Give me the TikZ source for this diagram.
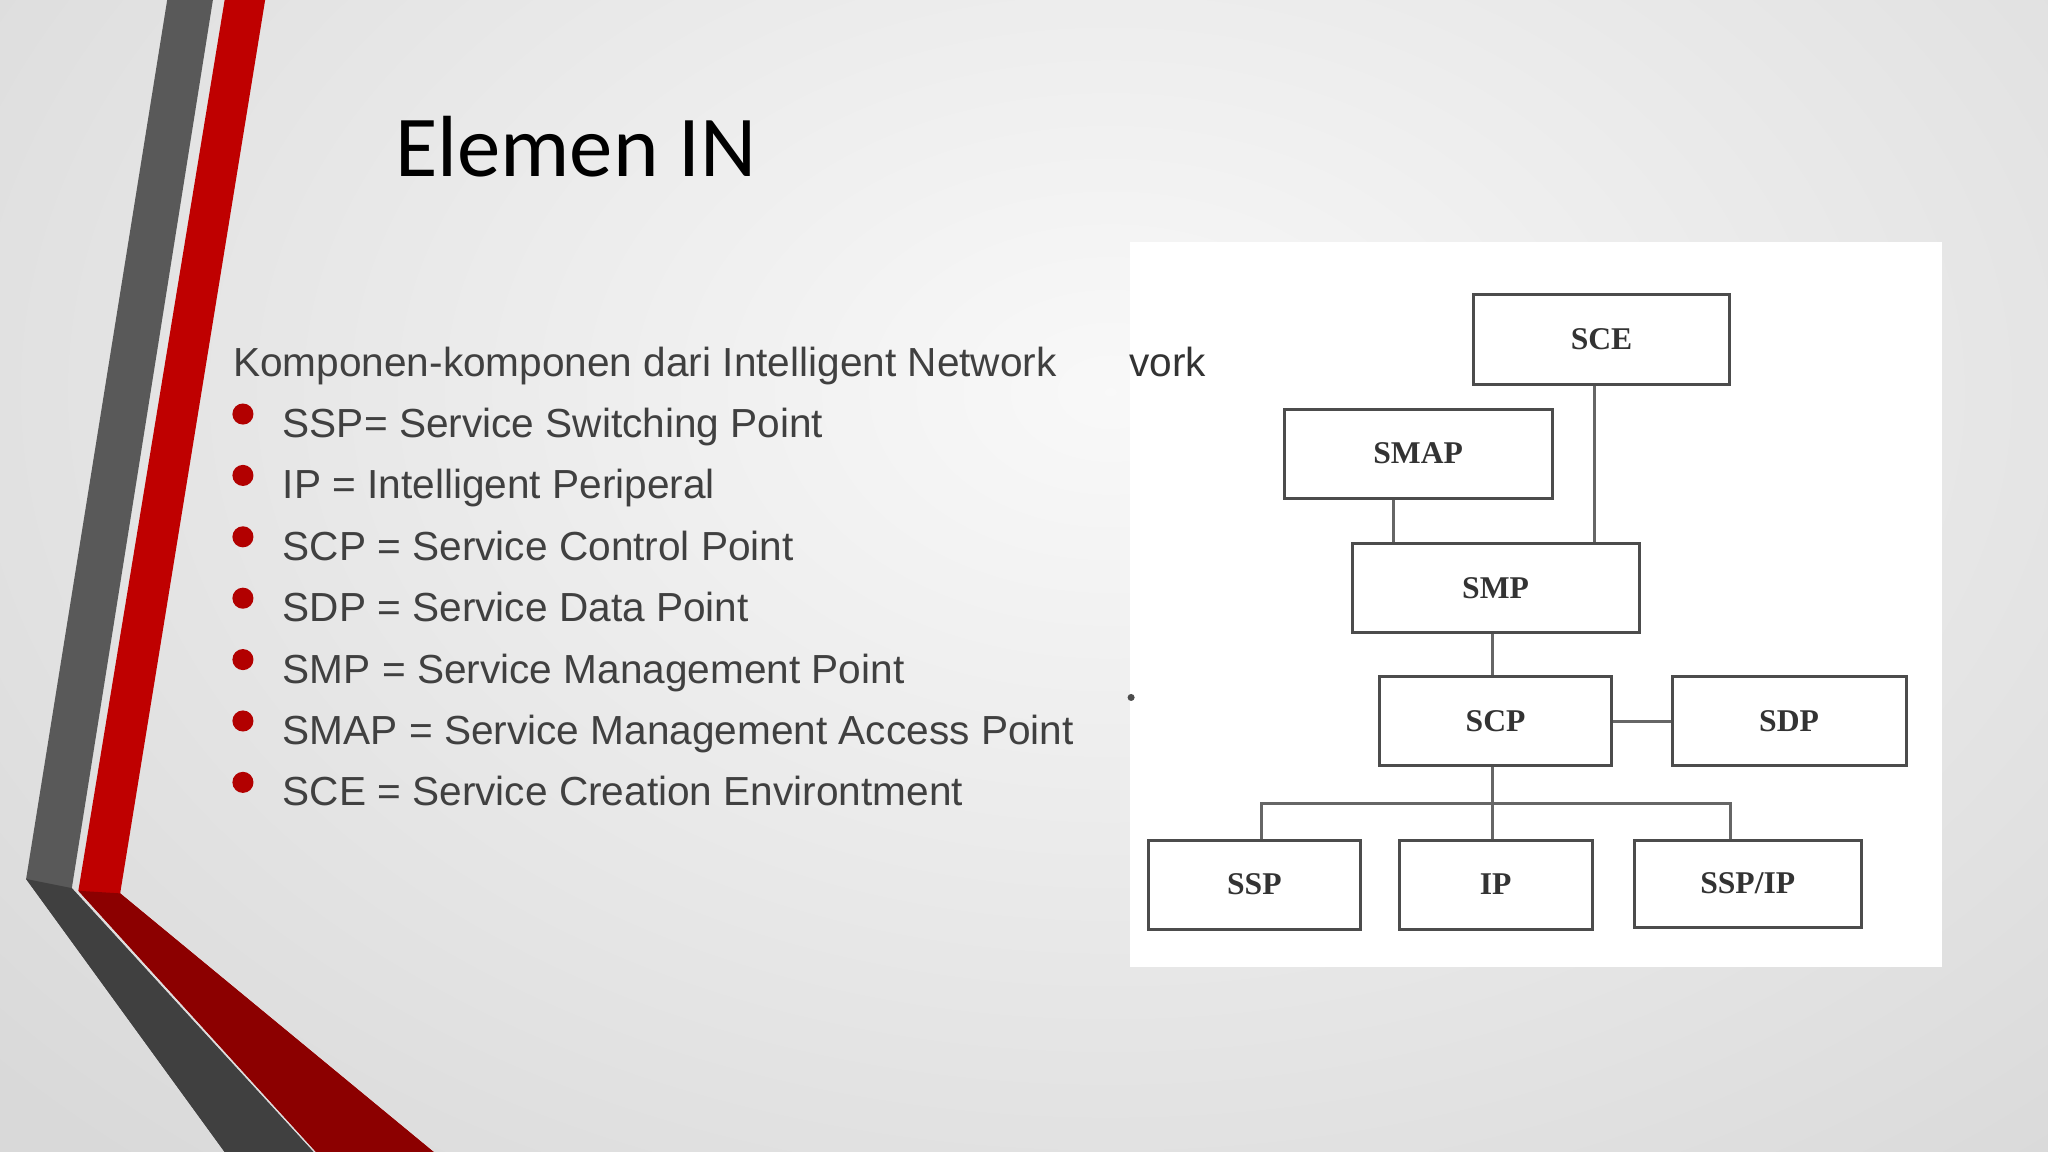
\documentclass[tikz,border=0pt]{standalone}
\usepackage{fontspec}
\setmainfont{Liberation Sans}
\newfontfamily\titlefont{Carlito}
\newfontfamily\diafont{Liberation Serif}
\begin{document}
\begin{tikzpicture}[x=0.01306cm,y=-0.01306cm,
  box/.style={draw=black!70,line width=0.9pt,inner sep=0pt,font=\diafont\bfseries\fontsize{9}{11}\selectfont,text=black!80},
  wire/.style={draw=black!60,line width=0.9pt},
  item/.style={anchor=base west,inner sep=0pt,font=\fontsize{11.55}{14}\selectfont,text=black!75}]
\useasboundingbox (0,0) rectangle (1568,882);
\fill[gray!30] (0,0) rectangle (1568,882);
\shade[inner color=gray!5,outer color=gray!30] (-300,-500) rectangle (2000,1100);
% stripes
\fill[black!65] (128,0)--(163,0)--(55,680)--(240,882)--(172,882)--(20,673)--cycle;
\fill[black!75] (20,673)--(55,680)--(240,882)--(172,882)--cycle;
\fill[red!75!black] (172,0)--(203,0)--(92,684)--(332,882)--(242,882)--(60,682)--cycle;
\fill[red!55!black] (60,682)--(92,684)--(332,882)--(242,882)--cycle;
% title
\node[anchor=base west,inner sep=0pt,font=\titlefont\fontsize{24.7}{30}\selectfont] (title) at (302,135) {Elemen IN};
% list
\node[item] (head) at (178,288) {Komponen-komponen dari Intelligent Network};
\foreach \t [count=\i] in {SSP= Service Switching Point,IP = Intelligent Periperal,SCP = Service Control Point,SDP = Service Data Point,SMP = Service Management Point,SMAP = Service Management Access Point,SCE = Service Creation Environtment}{
  \node[item] (it\i) at (216,288+47*\i) {\t};
  \node[circle,fill=red!70!black,inner sep=0pt,minimum size=6pt] (b\i) at (186,270+47*\i) {};
}
% panel
\fill[white] (865,185) rectangle (1487,740);
\node[anchor=base west,inner sep=0pt,font=\fontsize{11.55}{14}\selectfont,text=black!80] (vork) at (864,288) {vork};
\node[circle,fill=black!70,inner sep=0pt,minimum size=2pt] (dot) at (866,534) {};
% boxes
\node[box,anchor=north west,minimum width=2.56cm,minimum height=0.9cm] (sce) at (1127,224) {SCE};
\node[box,anchor=north west,minimum width=2.68cm,minimum height=0.89cm] (smap) at (982,312) {SMAP};
\node[box,anchor=north west,minimum width=2.87cm,minimum height=0.89cm] (smp) at (1034,415) {SMP};
\node[box,anchor=north west,minimum width=2.32cm,minimum height=0.89cm] (scp) at (1055,517) {SCP};
\node[box,anchor=north west,minimum width=2.34cm,minimum height=0.89cm] (sdp) at (1279,517) {SDP};
\node[box,anchor=north west,minimum width=2.12cm,minimum height=0.89cm] (ssp) at (878,642) {SSP};
\node[box,anchor=north west,minimum width=1.93cm,minimum height=0.89cm] (ip) at (1070,642) {IP};
\node[box,anchor=north west,minimum width=2.27cm,minimum height=0.87cm] (sspip) at (1250,642) {SSP/IP};
% wires
\draw[wire] (sce.south -| 1221,0) -- (smp.north -| 1221,0);
\draw[wire] (smap.south -| 1067,0) -- (smp.north -| 1067,0);
\draw[wire] (smp.south -| 1143,0) -- (scp.north -| 1143,0);
\draw[wire] (scp.east) -- (sdp.west);
\coordinate (bus) at (1143,615);
\draw[wire] (scp.south -| 1143,0) -- (ip.north -| 1143,0);
\draw[wire] (ssp.north -| 966,0) -- (bus -| 966,0) -- (bus -| 1325,0) -- (sspip.north -| 1325,0);
\end{tikzpicture}
\end{document}
